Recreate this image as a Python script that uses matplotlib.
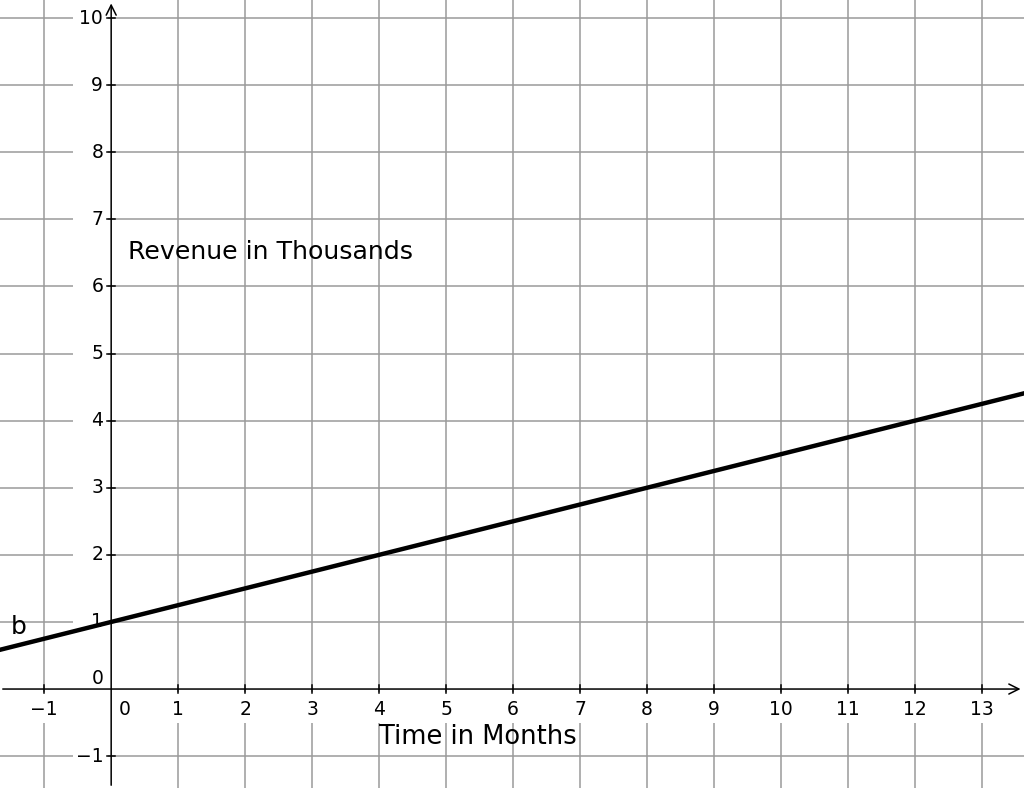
import numpy as np
import matplotlib.pyplot as plt
from matplotlib.patches import Rectangle

plt.rcParams["font.family"] = "DejaVu Sans"

# data
x_ticks = list(range(-1, 14))
y_ticks = [-1] + list(range(0, 11))
slope = 0.25
intercept = 1.0
x_line = [-1.7, 13.7]
y_line = [slope * x + intercept for x in x_line]

xmin, xmax = -1.66, 13.63
ymin, ymax = -1.475, 10.27

fig = plt.figure(figsize=(10.24, 7.88), dpi=100)
ax = fig.add_axes([0, 0, 1, 1])
ax.set_xlim(xmin, xmax)
ax.set_ylim(ymin, ymax)
ax.axis("off")

grid_c = "#9a9a9a"
for x in range(-1, 14):
    if x != 0:
        ax.plot([x, x], [ymin, ymax], color=grid_c, lw=1.1, zorder=1)
for y in range(-1, 11):
    if y != 0:
        ax.plot([xmin, xmax], [y, y], color=grid_c, lw=1.1, zorder=1)

# axes with arrows
ax.annotate("", xy=(xmax - 0.01, 0), xytext=(xmin, 0),
            arrowprops=dict(arrowstyle="->", color="black", lw=1.1,
                            mutation_scale=18), zorder=3)
ax.annotate("", xy=(0, ymax - 0.01), xytext=(0, ymin),
            arrowprops=dict(arrowstyle="->", color="black", lw=1.1,
                            mutation_scale=18), zorder=3)

# tick marks
for x in x_ticks:
    if x != 0:
        ax.plot([x, x], [-0.06, 0.06], color="black", lw=1.1, zorder=3)
for y in y_ticks:
    if y != 0:
        ax.plot([-0.06, 0.06], [y, y], color="black", lw=1.1, zorder=3)

fs = 13.5
# x tick labels with white boxes
for x in x_ticks:
    if x == 0:
        ax.text(0.2, -0.3, "0", ha="center", va="center", fontsize=fs, zorder=5)
        continue
    ax.add_patch(Rectangle((x - 0.22, -0.51), 0.44, 0.46, facecolor="white",
                           edgecolor="none", zorder=2))
    lab = "\u22121" if x < 0 else str(x)
    ax.text(x, -0.3, lab, ha="center", va="center", fontsize=fs, zorder=5)

# y tick labels with white boxes
for y in y_ticks:
    if y == 0:
        ax.text(-0.12, 0.15, "0", ha="right", va="center", fontsize=fs, zorder=5)
        continue
    ax.add_patch(Rectangle((-0.57, y - 0.19), 0.52, 0.38, facecolor="white",
                           edgecolor="none", zorder=2))
    lab = "\u22121" if y < 0 else str(y)
    ax.text(-0.12, y, lab, ha="right", va="center", fontsize=fs, zorder=3.5)

# the line
ax.plot(x_line, y_line, color="black", lw=3.2, zorder=4, solid_capstyle="butt")

ax.text(-1.5, 0.92, "b", ha="left", va="center", fontsize=18, zorder=5)
ax.text(0.25, 6.52, "Revenue in Thousands", ha="left", va="center",
        fontsize=18.2, zorder=5)
ax.text(4.0, -0.72, "Time in Months", ha="left", va="center",
        fontsize=18.5, zorder=5)

fig.savefig("out.png", dpi=100)
